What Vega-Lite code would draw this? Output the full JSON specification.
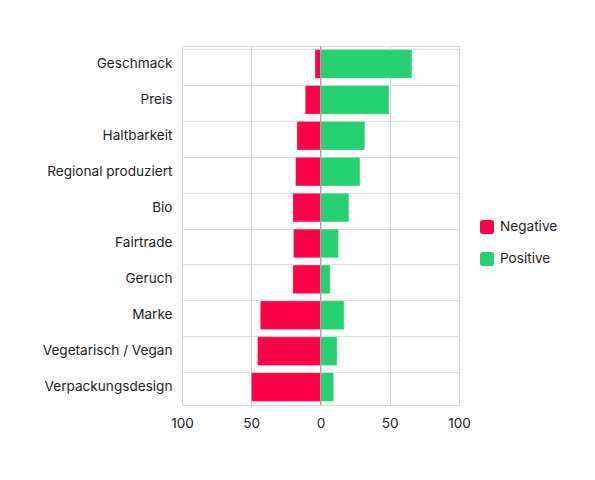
{
  "$schema": "https://vega.github.io/schema/vega-lite/v6.json",
  "autosize": "none",
  "width": 277,
  "height": 359,
  "padding": {"left": 182, "top": 46, "right": 136, "bottom": 75},
  "background": "white",
  "config": {
    "font": "Inter",
    "view": {"stroke": "#d9d9d9", "strokeWidth": 1}
  },
  "data": {
    "values": [
      {"category": "Geschmack", "type": "Negative", "value": -4},
      {"category": "Geschmack", "type": "Positive", "value": 66},
      {"category": "Preis", "type": "Negative", "value": -11},
      {"category": "Preis", "type": "Positive", "value": 49.5},
      {"category": "Haltbarkeit", "type": "Negative", "value": -17},
      {"category": "Haltbarkeit", "type": "Positive", "value": 32},
      {"category": "Regional produziert", "type": "Negative", "value": -18},
      {"category": "Regional produziert", "type": "Positive", "value": 28.5},
      {"category": "Bio", "type": "Negative", "value": -20},
      {"category": "Bio", "type": "Positive", "value": 20.5},
      {"category": "Fairtrade", "type": "Negative", "value": -19.5},
      {"category": "Fairtrade", "type": "Positive", "value": 13},
      {"category": "Geruch", "type": "Negative", "value": -20},
      {"category": "Geruch", "type": "Positive", "value": 7},
      {"category": "Marke", "type": "Negative", "value": -43.5},
      {"category": "Marke", "type": "Positive", "value": 17},
      {"category": "Vegetarisch / Vegan", "type": "Negative", "value": -45.5},
      {"category": "Vegetarisch / Vegan", "type": "Positive", "value": 12},
      {"category": "Verpackungsdesign", "type": "Negative", "value": -50},
      {"category": "Verpackungsdesign", "type": "Positive", "value": 9.5}
    ]
  },
  "layer": [
    {
      "mark": {"type": "bar", "stroke": "white", "strokeOpacity": 0.35, "strokeWidth": 1},
      "encoding": {
        "y": {
          "field": "category",
          "type": "nominal",
          "sort": null,
          "title": null,
          "scale": {"paddingInner": 0.2, "paddingOuter": 0.1},
          "axis": {
            "domain": false,
            "ticks": false,
            "grid": true,
            "gridColor": "#dcdcdc",
            "bandPosition": 0,
            "labelFontSize": 13.6,
            "labelColor": "#222",
            "labelPadding": 10
          }
        },
        "x": {
          "field": "value",
          "type": "quantitative",
          "stack": null,
          "title": null,
          "scale": {"domain": [-100, 100], "nice": false},
          "axis": {
            "values": [-100, -50, 0, 50, 100],
            "labelExpr": "abs(datum.value)",
            "domain": false,
            "ticks": false,
            "grid": true,
            "gridColor": "#d0d0d0",
            "labelFontSize": 13.6,
            "labelColor": "#222",
            "labelPadding": 11,
            "labelFlush": false
          }
        },
        "color": {
          "field": "type",
          "type": "nominal",
          "title": null,
          "scale": {"domain": ["Negative", "Positive"], "range": ["#ff0049", "#24d072"]},
          "legend": {
            "orient": "none",
            "legendX": 298,
            "legendY": 174,
            "symbolType": "M -0.6 -1 L 0.6 -1 Q 1 -1 1 -0.6 L 1 0.6 Q 1 1 0.6 1 L -0.6 1 Q -1 1 -1 0.6 L -1 -0.6 Q -1 -1 -0.6 -1 Z",
            "symbolSize": 196,
            "symbolStrokeWidth": 0,
            "symbolOpacity": 1,
            "labelFontSize": 13.6,
            "labelColor": "#222",
            "labelOffset": 6,
            "rowPadding": 18
          }
        }
      }
    },
    {
      "mark": {"type": "rule", "color": "#a8a8a8", "strokeWidth": 1},
      "encoding": {"x": {"datum": 0}}
    }
  ]
}
